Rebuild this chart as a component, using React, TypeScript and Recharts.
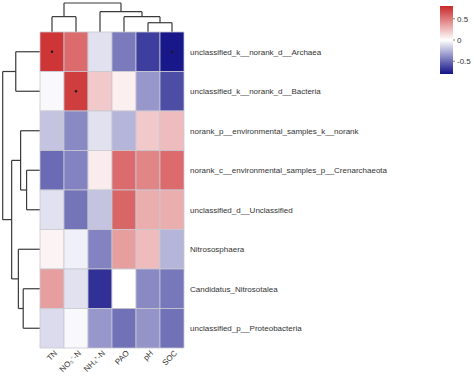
import React from 'react';
import { ReferenceLine, Scatter, ScatterChart, XAxis, YAxis } from 'recharts';

const columns = ['TN', 'NO₃⁻-N', 'NH₄⁺-N', 'PAO', 'pH', 'SOC'];

const rows = [
  'unclassified_k__norank_d__Archaea',
  'unclassified_k__norank_d__Bacteria',
  'norank_p__environmental_samples_k__norank',
  'norank_c__environmental_samples_p__Crenarchaeota',
  'unclassified_d__Unclassified',
  'Nitrososphaera',
  'Candidatus_Nitrosotalea',
  'unclassified_p__Proteobacteria',
];

// correlation values, one array per row (TN, NO3, NH4, PAO, pH, SOC)
const archaea = [0.75, 0.55, -0.1, -0.45, -0.65, -0.78];
const bacteria = [-0.02, 0.72, 0.2, 0.06, -0.35, -0.6];
const noRankK = [-0.2, -0.4, -0.1, -0.25, 0.2, 0.25];
const crenarchaeota = [-0.5, -0.42, 0.07, 0.55, 0.45, 0.55];
const unclassified = [-0.1, -0.47, -0.2, 0.57, 0.3, 0.3];
const nitrososphaera = [0.04, -0.05, -0.42, 0.36, 0.25, -0.25];
const nitrosotalea = [0.36, -0.1, -0.7, 0.0, -0.4, -0.46];
const proteobacteria = [-0.12, -0.02, -0.35, -0.48, -0.36, -0.48];
const values = [archaea, bacteria, noRankK, crenarchaeota, unclassified, nitrososphaera, nitrosotalea, proteobacteria];

// cells marked as significant: [row, column]
const significant = [[0, 0], [0, 5], [1, 1]];

const legendTicks = [0.5, 0, -0.5];
const LIMIT = 0.8;

// dendrograms: leaf index or [left, right, mergeHeight]
type Tree = number | [Tree, Tree, number];
const colTree: Tree = [[0, 1, 0.53], [2, [3, [4, 5, 0.32], 0.53], 0.7], 1.0];
const rowTree: Tree = [[0, 1, 0.65], [[2, [3, 4, 0.36], 0.52], [5, [6, 7, 0.45], 0.58], 0.76], 1.0];

const W = 474;
const H = 378;
const PLOT_LEFT = 40;
const PLOT_TOP = 32;
const PLOT_W = 144;
const PLOT_H = 316;
const CELL_W = PLOT_W / columns.length;
const CELL_H = PLOT_H / rows.length;
const COL_DENDRO = 29 / CELL_H; // dendrogram height in row units
const ROW_DENDRO = 37.3 / CELL_W; // dendrogram width in column units
const FONT = '"Liberation Sans", Arial, sans-serif';

const NAVY = [18, 18, 136];
const WHITE = [255, 255, 255];
const RED = [202, 40, 42];

function colorFor(v: number) {
  const t = Math.max(-1, Math.min(1, v / LIMIT));
  const target = t < 0 ? NAVY : RED;
  const a = Math.abs(t);
  const c = WHITE.map((w, i) => Math.round(w + (target[i] - w) * a));
  return `rgb(${c[0]},${c[1]},${c[2]})`;
}

type Seg = { a: [number, number]; b: [number, number] };

function dendro(tree: Tree): { pos: number; h: number; segs: Seg[] } {
  if (typeof tree === 'number') return { pos: tree + 0.5, h: 0, segs: [] };
  const L = dendro(tree[0]);
  const R = dendro(tree[1]);
  const h = tree[2];
  return {
    pos: (L.pos + R.pos) / 2,
    h,
    segs: [
      ...L.segs,
      ...R.segs,
      { a: [L.pos, h], b: [R.pos, h] },
      { a: [L.pos, L.h], b: [L.pos, h] },
      { a: [R.pos, R.h], b: [R.pos, h] },
    ],
  };
}

const cells = values.flatMap((row, r) =>
  row.map((v, c) => ({
    x: c + 0.5,
    y: r + 0.5,
    value: v,
    sig: significant.some(([sr, sc]) => sr === r && sc === c),
  }))
);

const CellShape = (props: any) => {
  const { cx, cy, payload } = props;
  return (
    <g>
      <rect
        x={cx - CELL_W / 2}
        y={cy - CELL_H / 2}
        width={CELL_W}
        height={CELL_H}
        fill={colorFor(payload.value)}
        stroke="#c9c9d2"
        strokeWidth={0.8}
      />
      {payload.sig && <circle cx={cx} cy={cy} r={1.2} fill="#1a1a1a" />}
    </g>
  );
};

const ColumnTick = (props: any) => {
  const { x, y, payload } = props;
  const label = columns[Math.floor(payload.value)];
  return (
    <text
      x={x + 4}
      y={y}
      transform={`rotate(-45, ${x + 4}, ${y})`}
      textAnchor="end"
      dy="0.3em"
      fontSize={8}
      fill="#333"
      fontFamily={FONT}
    >
      {label}
    </text>
  );
};

const ColorLegend = () => {
  const top = 6;
  const bottom = 74;
  const left = 440;
  const width = 13;
  const yOf = (v: number) => top + ((LIMIT - v) / (2 * LIMIT)) * (bottom - top);
  const stops = [0.8, 0.6, 0.4, 0.2, 0, -0.2, -0.4, -0.6, -0.8];
  return (
    <svg width={W} height={H} style={{ position: 'absolute', left: 0, top: 0, pointerEvents: 'none' }}>
      <defs>
        <linearGradient id="heat" x1="0" y1="0" x2="0" y2="1">
          {stops.map((s, i) => (
            <stop key={i} offset={i / (stops.length - 1)} stopColor={colorFor(s)} />
          ))}
        </linearGradient>
      </defs>
      <rect x={left} y={top} width={width} height={bottom - top} fill="url(#heat)" />
      {legendTicks.map((t) => (
        <g key={t}>
          <line x1={left + width} x2={left + width + 2} y1={yOf(t)} y2={yOf(t)} stroke="#666" strokeWidth={0.8} />
          <text x={left + width + 4} y={yOf(t)} dy="0.35em" fontSize={8} fill="#333" fontFamily={FONT}>
            {t}
          </text>
        </g>
      ))}
    </svg>
  );
};

export default function App() {
  const colSegs = dendro(colTree).segs;
  const rowSegs = dendro(rowTree).segs;
  return (
    <div style={{ position: 'absolute', left: 0, top: 0, width: W, height: H, background: '#fff' }}>
      <ScatterChart
        width={W}
        height={H}
        margin={{ top: PLOT_TOP, left: PLOT_LEFT, right: W - PLOT_LEFT - PLOT_W - 280, bottom: H - PLOT_TOP - PLOT_H - 30 }}
      >
        <XAxis
          type="number"
          dataKey="x"
          domain={[0, columns.length]}
          ticks={columns.map((_, i) => i + 0.5)}
          interval={0}
          axisLine={false}
          tickLine={false}
          tickSize={0}
          tickMargin={4}
          height={30}
          tick={<ColumnTick />}
        />
        <YAxis
          type="number"
          dataKey="y"
          orientation="right"
          reversed
          domain={[0, rows.length]}
          ticks={rows.map((_, i) => i + 0.5)}
          interval={0}
          axisLine={false}
          tickLine={false}
          tickSize={0}
          tickMargin={6}
          width={280}
          tickFormatter={(v: number) => rows[Math.floor(v)]}
          tick={{ fontSize: 8, fill: '#333', fontFamily: FONT, textAnchor: 'start' }}
        />
        <Scatter data={cells} shape={<CellShape />} isAnimationActive={false} />
        {colSegs.map((s, i) => (
          <ReferenceLine
            key={`c${i}`}
            segment={[
              { x: s.a[0], y: -s.a[1] * COL_DENDRO },
              { x: s.b[0], y: -s.b[1] * COL_DENDRO },
            ]}
            ifOverflow="visible"
            stroke="#3a3a3a"
            strokeWidth={1.2}
          />
        ))}
        {rowSegs.map((s, i) => (
          <ReferenceLine
            key={`r${i}`}
            segment={[
              { x: -s.a[1] * ROW_DENDRO, y: s.a[0] },
              { x: -s.b[1] * ROW_DENDRO, y: s.b[0] },
            ]}
            ifOverflow="visible"
            stroke="#3a3a3a"
            strokeWidth={1.2}
          />
        ))}
      </ScatterChart>
      <ColorLegend />
    </div>
  );
}
